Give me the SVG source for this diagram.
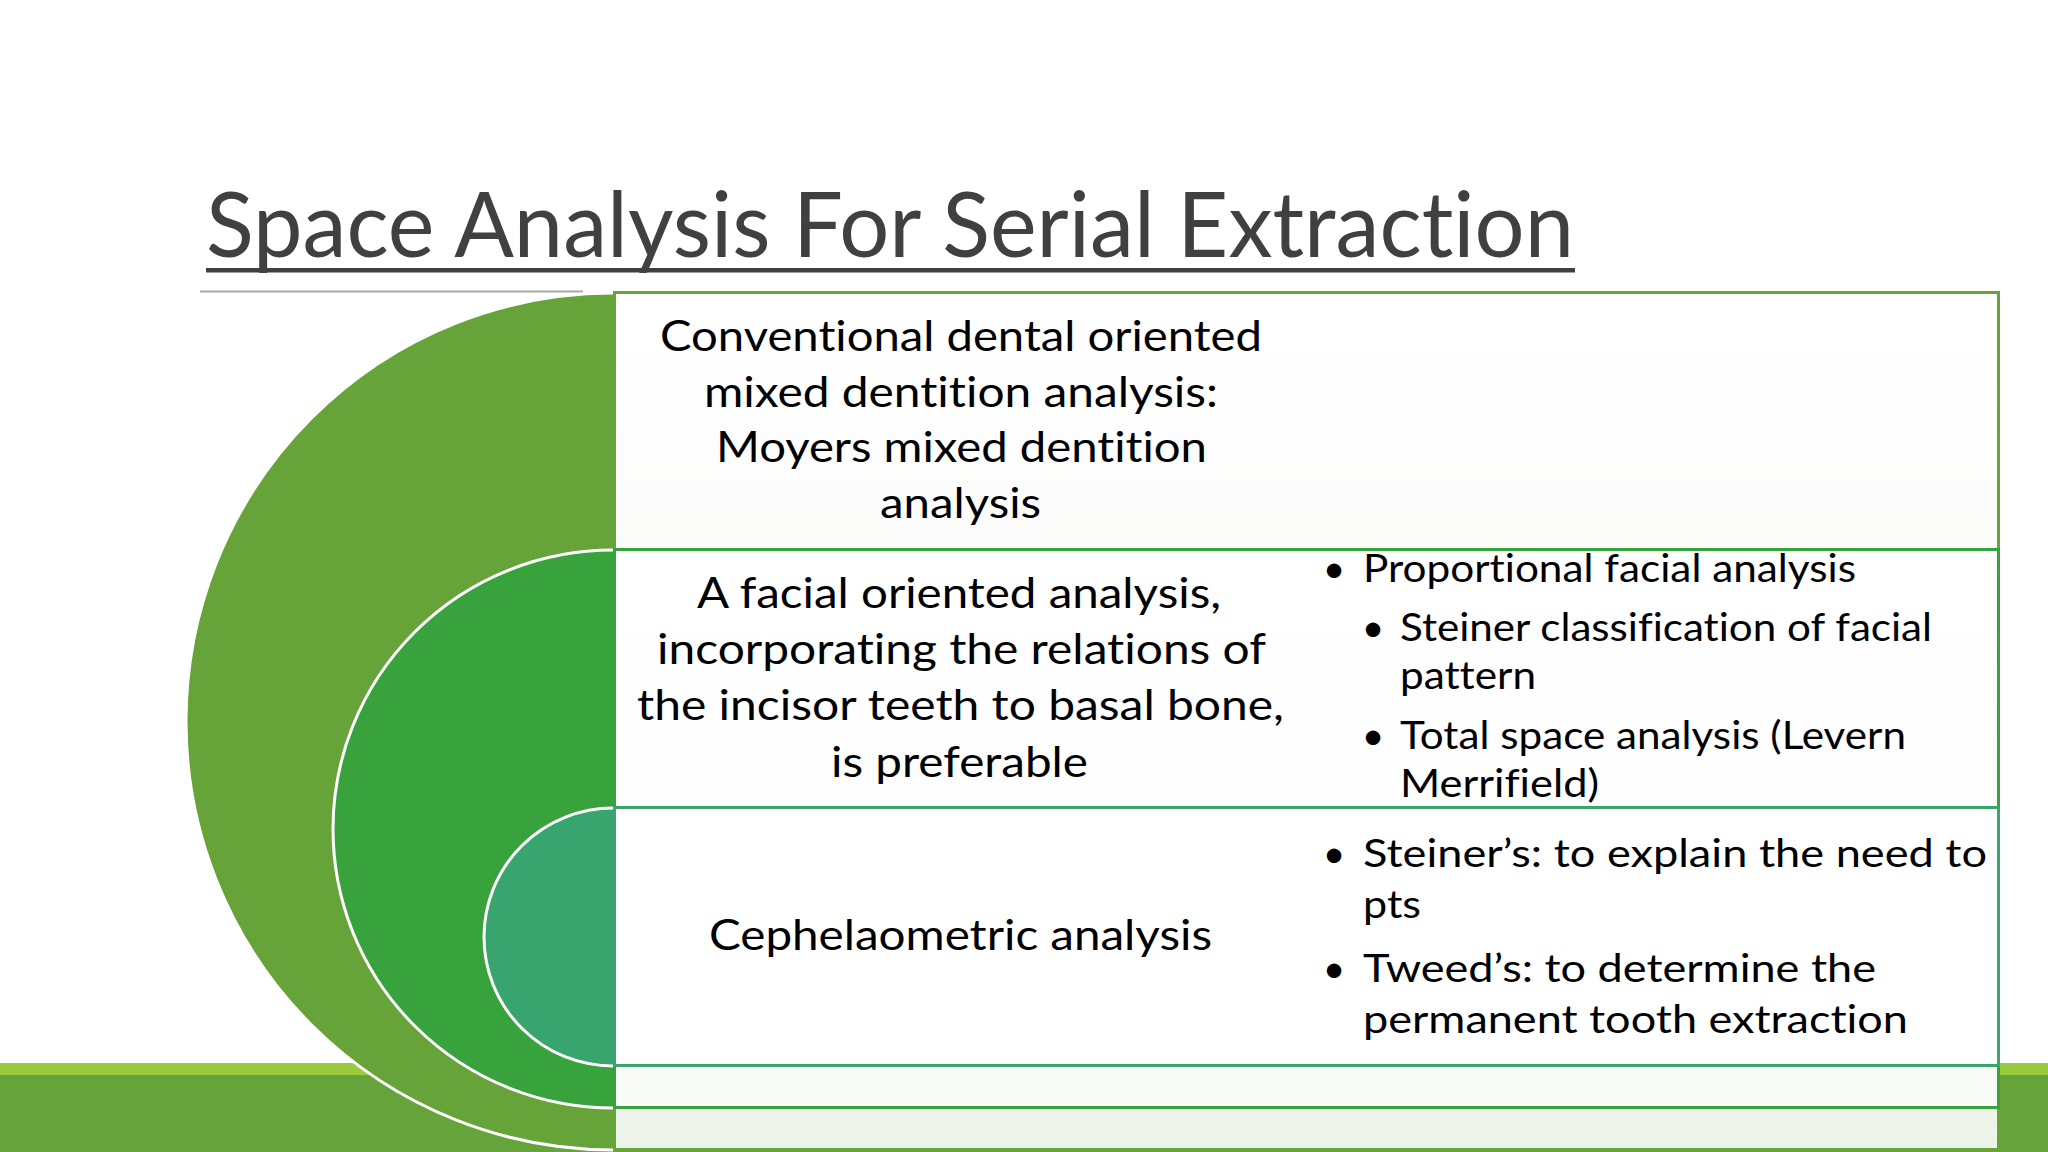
<svg xmlns="http://www.w3.org/2000/svg" width="2048" height="1152" viewBox="0 0 2048 1152">
  <defs>
    <linearGradient id="gOuter" x1="0" y1="0" x2="0" y2="1">
      <stop offset="0" stop-color="#ffffff"/>
      <stop offset="0.85" stop-color="#f3f7f1"/>
      <stop offset="1" stop-color="#ecf3e8"/>
    </linearGradient>
    <linearGradient id="gMid" x1="0" y1="0" x2="0" y2="1">
      <stop offset="0" stop-color="#ffffff"/>
      <stop offset="1" stop-color="#f8fbf8"/>
    </linearGradient>
  </defs>
  <style>
    text { font-variant-ligatures: none; font-feature-settings: "liga" 0, "dlig" 0; }
    .body { font-family: Lato, "Open Sans", "Liberation Sans", sans-serif; fill: #000000; }
    .c1 { font-size: 43px; }
    .c2 { font-size: 39px; }
    .title { font-family: Lato, "Open Sans", "Liberation Sans", sans-serif; font-size: 91px; fill: #404040; }
    .arc { stroke: #ffffff; stroke-width: 3; }
    .cell { stroke-width: 3; }
  </style>

  <rect x="0" y="0" width="2048" height="1152" fill="#ffffff"/>

  <!-- bottom band -->
  <g id="band">
    <rect x="0" y="1063" width="2048" height="12" fill="#9acb3c"/>
    <rect x="0" y="1075" width="2048" height="77" fill="#66a33a"/>
  </g>

  <!-- title -->
  <g id="title">
    <text class="title" x="206" y="257" textLength="1368" lengthAdjust="spacingAndGlyphs">Space Analysis For Serial Extraction</text>
    <rect x="206" y="268" width="1369" height="4.5" fill="#404040"/>
    <line x1="200" y1="291.5" x2="583" y2="291.5" stroke="#a6a6a6" stroke-width="2"/>
  </g>

  <!-- level 1 (outer) -->
  <g id="node-outer">
    <path d="M613,293 A427,428.5 0 0 0 613,1150 Z" fill="#66a338"/>
    <path d="M613,293 A427,428.5 0 0 0 613,1150" fill="none" class="arc"/>
    <rect x="614.5" y="292.5" width="1384" height="857" fill="url(#gOuter)" stroke="#66a338" class="cell"/>
  </g>

  <!-- level 2 (middle) -->
  <g id="node-middle">
    <path d="M613,550 A280,279 0 0 0 613,1108 Z" fill="#38a33c"/>
    <path d="M613,550 A280,279 0 0 0 613,1108" fill="none" class="arc"/>
    <rect x="614.5" y="549.5" width="1384" height="558" fill="url(#gMid)" stroke="#38a33c" class="cell"/>
  </g>

  <!-- level 3 (inner) -->
  <g id="node-inner">
    <path d="M613,808 A129,129 0 0 0 613,1066 Z" fill="#38a56e"/>
    <path d="M613,808 A129,129 0 0 0 613,1066" fill="none" class="arc"/>
    <rect x="614.5" y="807.5" width="1384" height="258" fill="#ffffff" stroke="#3aa56e" class="cell"/>
  </g>

  <!-- row 1 text -->
  <g id="text-row1" class="body c1">
    <text x="660" y="351" textLength="602" lengthAdjust="spacingAndGlyphs">Conventional dental oriented</text>
    <text x="704" y="407" textLength="514" lengthAdjust="spacingAndGlyphs">mixed dentition analysis:</text>
    <text x="716" y="462" textLength="491" lengthAdjust="spacingAndGlyphs">Moyers mixed dentition</text>
    <text x="880" y="518" textLength="161" lengthAdjust="spacingAndGlyphs">analysis</text>
  </g>

  <!-- row 2 text -->
  <g id="text-row2" class="body">
    <text class="c1" x="697" y="608" textLength="524" lengthAdjust="spacingAndGlyphs">A facial oriented analysis,</text>
    <text class="c1" x="657" y="664" textLength="609" lengthAdjust="spacingAndGlyphs">incorporating the relations of</text>
    <text class="c1" x="637" y="720" textLength="647" lengthAdjust="spacingAndGlyphs">the incisor teeth to basal bone,</text>
    <text class="c1" x="831" y="777" textLength="257" lengthAdjust="spacingAndGlyphs">is preferable</text>

    <text class="c2" x="1334" y="582" text-anchor="middle">•</text>
    <text class="c2" x="1363" y="582" textLength="493" lengthAdjust="spacingAndGlyphs">Proportional facial analysis</text>
    <text class="c2" x="1373" y="641" text-anchor="middle">•</text>
    <text class="c2" x="1400" y="641" textLength="532" lengthAdjust="spacingAndGlyphs">Steiner classification of facial</text>
    <text class="c2" x="1400" y="689" textLength="136" lengthAdjust="spacingAndGlyphs">pattern</text>
    <text class="c2" x="1373" y="749" text-anchor="middle">•</text>
    <text class="c2" x="1400" y="749" textLength="506" lengthAdjust="spacingAndGlyphs">Total space analysis (Levern</text>
    <text class="c2" x="1400" y="797" textLength="199" lengthAdjust="spacingAndGlyphs">Merrifield)</text>
  </g>

  <!-- row 3 text -->
  <g id="text-row3" class="body">
    <text class="c1" x="709" y="950" textLength="503" lengthAdjust="spacingAndGlyphs">Cephelaometric analysis</text>

    <text class="c2" x="1334" y="867" text-anchor="middle">•</text>
    <text class="c2" x="1363" y="867" textLength="624" lengthAdjust="spacingAndGlyphs">Steiner’s: to explain the need to</text>
    <text class="c2" x="1363" y="918" textLength="58" lengthAdjust="spacingAndGlyphs">pts</text>
    <text class="c2" x="1334" y="982" text-anchor="middle">•</text>
    <text class="c2" x="1363" y="982" textLength="513" lengthAdjust="spacingAndGlyphs">Tweed’s: to determine the</text>
    <text class="c2" x="1363" y="1033" textLength="545" lengthAdjust="spacingAndGlyphs">permanent tooth extraction</text>
  </g>

  <g id="connectors"/>
</svg>
